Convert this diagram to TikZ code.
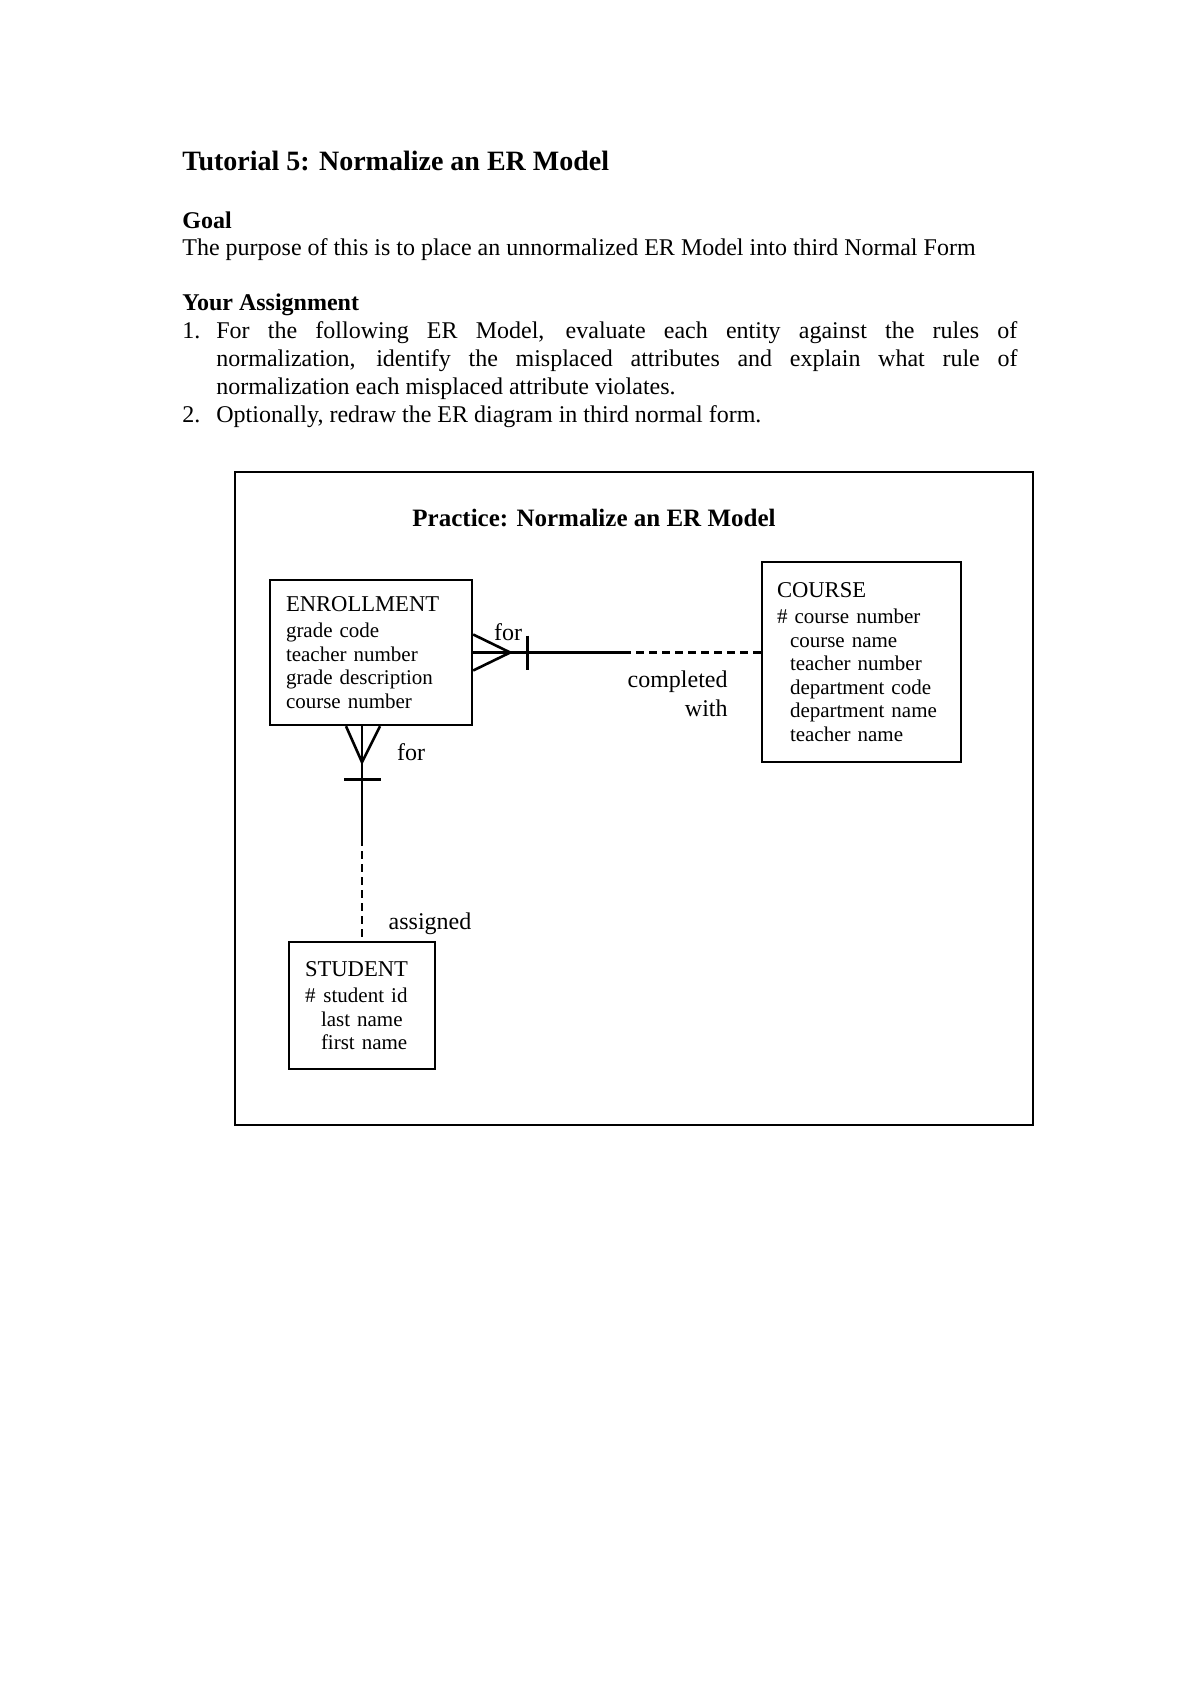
\documentclass[tikz,border=0pt]{standalone}
\usepackage{fontspec}
\setmainfont{Liberation Serif}
\usetikzlibrary{positioning}

\begin{document}
\begin{tikzpicture}[x=0.5pt, y=-0.5pt,
  every node/.style={inner sep=0pt},
  body/.style={font=\fontsize{12}{14}\selectfont, anchor=base west},
  entity/.style={draw, line width=1.2pt, align=left, font=\fontsize{10.5}{11.75}\selectfont},
  rel/.style={line width=1.3pt},
  opt/.style={line width=1.3pt, dash pattern=on 4pt off 2.5pt},
  lbl/.style={font=\fontsize{12}{14.5}\selectfont}]
  \useasboundingbox[fill=white] (0,0) rectangle (1200,1696);

  % page text
  \node[body, font=\fontsize{14}{16}\selectfont\bfseries] (title) at (182,171) {Tutorial 5: Normalize an ER Model};
  \node[body, font=\fontsize{12}{14}\selectfont\bfseries] (goal) at (182,228) {Goal};
  \node[body] (purpose) at (182,256) {The purpose of this is to place an unnormalized ER Model into third Normal Form};
  \node[body, font=\fontsize{12}{14}\selectfont\bfseries] (assign) at (182,310) {Your Assignment};
  \node[body] (num1) at (182,338) {1.};
  \node[body, text width=400.5pt, align=justify] (item1) at (216,338) {For the following ER Model, evaluate each entity against the rules of\linebreak normalization, identify the misplaced attributes and explain what rule of\linebreak normalization each misplaced attribute violates.};
  \node[body] (num2) at (182,422) {2.};
  \node[body] (item2) at (216,422) {Optionally, redraw the ER diagram in third normal form.};

  % diagram
  \draw[line width=1.4pt] (235,472) rectangle (1033,1125);
  \node[font=\fontsize{12.5}{15}\selectfont\bfseries] (practice) at (594,518) {Practice: Normalize an ER Model};

  \node[entity, minimum width=101pt, minimum height=72.5pt, text width=85pt] (enroll) at (371,652.5)
    {{\fontsize{11.3}{13}\selectfont ENROLLMENT}\\[1.5pt]
     grade code\\ teacher number\\ grade description\\ course number};
  \node[entity, minimum width=99.5pt, minimum height=100pt, text width=84.5pt] (course) at (861.5,662)
    {{\fontsize{11.3}{13}\selectfont COURSE}\\[1.5pt]
     \# course number\\ \hspace*{6.5pt}course name\\ \hspace*{6.5pt}teacher number\\
     \hspace*{6.5pt}department code\\ \hspace*{6.5pt}department name\\ \hspace*{6.5pt}teacher name};
  \node[entity, minimum width=73pt, minimum height=63.5pt, text width=57pt] (student) at (362,1005.5)
    {{\fontsize{11.3}{13}\selectfont STUDENT}\\[1.5pt]
     \#\hspace*{4pt}student id\\ \hspace*{8pt}last name\\ \hspace*{8pt}first name};

  % enrollment -- course
  \coordinate (ecrow) at ([xshift=18.5pt]enroll.east);
  \coordinate (ebar) at ([xshift=27pt]enroll.east);
  \coordinate (emid) at ([xshift=75pt]enroll.east);
  \coordinate (cwest) at (course.west |- enroll.east);
  \draw[rel] ([yshift=9pt]enroll.east) -- (ecrow) -- ([yshift=-9pt]enroll.east);
  \draw[rel] ([yshift=8.5pt]ebar) -- ([yshift=-8.5pt]ebar);
  \draw[rel] (enroll.east) -- (emid);
  \draw[opt] (emid) -- (cwest);

  % enrollment -- student
  \coordinate (etop) at (student.north |- enroll.south);
  \coordinate (scrow) at ([yshift=-18pt]etop);
  \coordinate (sbar) at ([yshift=-26.5pt]etop);
  \coordinate (smid) at ([yshift=-56pt]etop);
  \draw[rel] ([xshift=-8pt]etop) -- (scrow) -- ([xshift=9pt]etop);
  \draw[rel] ([xshift=-9pt]sbar) -- ([xshift=9.5pt]sbar);
  \draw[rel] (etop) -- (smid);
  \draw[opt] (smid) -- (student.north);

  \node[lbl] (for1) at (508,632) {for};
  \node[lbl, align=right, anchor=east] (compl) at (728,694) {completed\\with};
  \node[lbl] (for2) at (411,752) {for};
  \node[lbl] (assigned) at (430,924) {assigned};
\end{tikzpicture}
\end{document}
